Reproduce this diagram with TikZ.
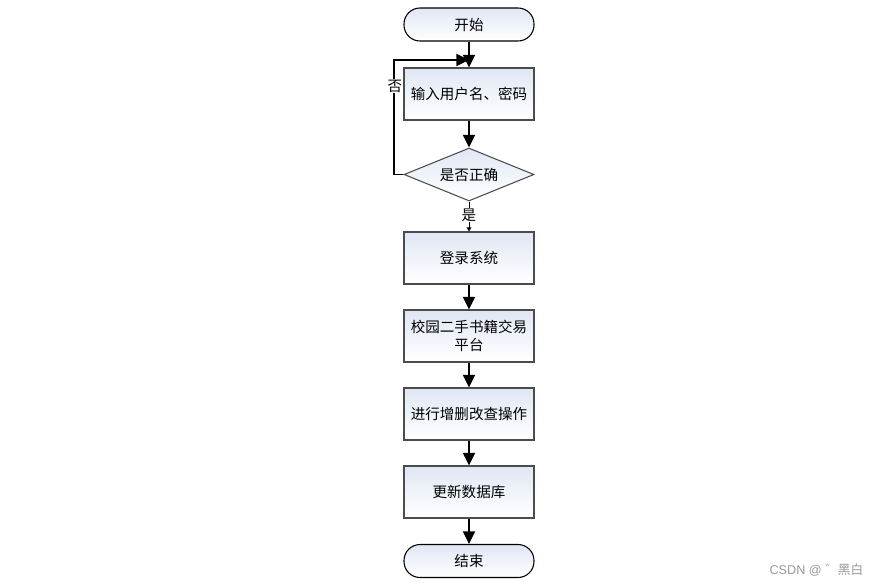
\documentclass[tikz,border=0pt]{standalone}
\usepackage{fontspec}
\setmainfont{Noto Sans CJK SC}
\newfontfamily\latinfont{Liberation Sans}
\usepackage{tikz}
\usetikzlibrary{positioning}
\usetikzlibrary{shapes,arrows.meta}
\definecolor{boxtop}{RGB}{224,231,244}
\tikzset{
  box/.style={draw=black!70, line width=0.8pt, top color=boxtop, bottom color=white,
    minimum width=97.5pt, minimum height=39pt, align=center, inner sep=1pt,
    font=\fontsize{10.9}{13.5}\selectfont},
  term/.style={box, draw=black, rounded corners=12pt, minimum height=24.75pt},
  test/.style={box, diamond, aspect=2.45, inner sep=0pt, minimum width=97.5pt, minimum height=39.75pt},
  flow/.style={line width=1.4pt, -{Triangle[length=9.5pt,width=9pt]}},
}
\begin{document}
\begin{tikzpicture}[x=0.75pt,y=-0.75pt]
\useasboundingbox (0,0) rectangle (881,586);
\node[term] (start) at (469,24.5) {开始};
\node[box] (input) at (469,94) {输入用户名、密码};
\node[test] (check) at (469,174.5) {是否正确};
\node[box] (login) at (469,258) {登录系统};
\node[box] (platform) at (469,336) {校园二手书籍交易\\平台};
\node[box] (operate) at (469,414) {进行增删改查操作};
\node[box] (update) at (469,492) {更新数据库};
\node[term] (stop) at (469,561) {结束};
\coordinate (join) at (469,60);
\draw[flow] (start) -- (input);
\draw[flow] (check.west) -- (394,174.5) |- (join);
\node[fill=white, inner sep=0.5pt, font=\fontsize{10.9}{13}\selectfont] at (395,86) {否};
\draw[flow] (input) -- (check);
\draw[line width=0.6pt, -{Triangle[length=3pt,width=3.5pt]}] (check.south) -- (login.north)
  node[pos=0.45, fill=white, inner sep=0.5pt, font=\fontsize{10.9}{13}\selectfont] {是};
\draw[flow] (login) -- (platform);
\draw[flow] (platform) -- (operate);
\draw[flow] (operate) -- (update);
\draw[flow] (update) -- (stop);
\node[anchor=east, text=black!40, font=\fontsize{9.5}{11}\selectfont] (mark) at (868,570) {{\latinfont CSDN @ }゛黑白};
\end{tikzpicture}
\end{document}
